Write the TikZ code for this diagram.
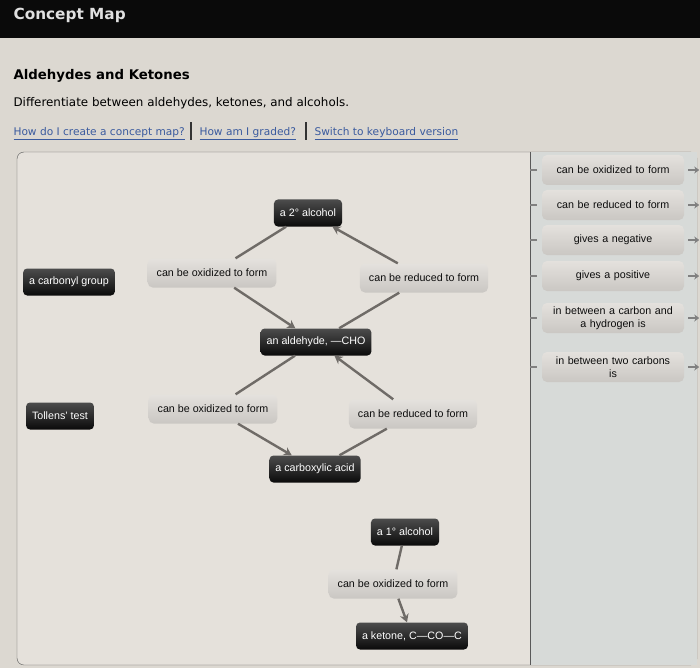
\documentclass[tikz,border=0pt]{standalone}
\usepackage{fontspec}
\setmainfont{Liberation Sans}
\newfontfamily\webfont{DejaVu Sans}
\usetikzlibrary{arrows.meta,positioning}

\definecolor{pagebg}{HTML}{DCD8D1}
\definecolor{canvasbg}{HTML}{E5E1DB}
\definecolor{panelbg}{HTML}{D7DAD8}
\definecolor{linkblue}{HTML}{3A5A9E}
\definecolor{edgegray}{HTML}{6F6B67}
\definecolor{boxlight}{HTML}{E4E1DD}
\definecolor{boxshade}{HTML}{CAC7C3}

\tikzstyle{concept}=[rounded corners=4pt,top color=black!70,bottom color=black!96,text=white,minimum height=27pt,inner xsep=6pt,font=\fontsize{10.7}{12}\selectfont]
\tikzstyle{linker}=[rounded corners=5pt,top color=boxlight,bottom color=boxshade,text=black!95,minimum height=29pt,inner xsep=9pt,font=\fontsize{10.7}{12.5}\selectfont]
\tikzstyle{tray item}=[linker,minimum width=134pt,text width=124pt,align=center,minimum height=30pt]
\tikzstyle{edge} = [draw,line width=2.4pt,edgegray]
\tikzstyle{arrow edge} = [edge,-{Stealth[length=8pt,width=9pt]}]
\tikzstyle{handle} = [draw,line width=2.6pt,black!50]

\begin{document}
\begin{tikzpicture}[x=1pt,y=-1pt]
	\useasboundingbox (0,0) rectangle (700,668);
	% Page, header bar and the canvas
	\fill[pagebg] (0,0) rectangle (700,668);
	\fill[black!96] (0,0) rectangle (700,38);
	\draw[black!65,fill=canvasbg,rounded corners=7pt] (17,152) rectangle (697,665);
	\fill[panelbg] (530,152.5) rectangle (696.5,664.5);
	\draw[black!65] (530,152) -- (530,665);

	% Page texts
	\node[anchor=west,text=black!12,font=\webfont\bfseries\fontsize{15.3}{18}\selectfont] (title) at (10,15) {Concept Map};
	\node[anchor=base west,font=\webfont\bfseries\fontsize{13.3}{16}\selectfont] (topic) at (10,80) {Aldehydes and Ketones};
	\node[anchor=base west,font=\webfont\fontsize{11.9}{14}\selectfont] (goal) at (10,107) {Differentiate between aldehydes, ketones, and alcohols.};
	\node[anchor=base west,text=linkblue,font=\webfont\fontsize{10.6}{12}\selectfont] (howto) at (10,136) {\underline{How do I create a concept map?}};
	\node[anchor=base west,text=linkblue,font=\webfont\fontsize{10.6}{12}\selectfont] (graded) at (196,136) {\underline{How am I graded?}};
	\node[anchor=base west,text=linkblue,font=\webfont\fontsize{10.6}{12}\selectfont] (keyboard) at (311,136) {\underline{Switch to keyboard version}};
	\node[fill=black!80,inner sep=0pt,minimum width=1.2pt,minimum height=18pt] (bar1) at (191,131) {};
	\node[fill=black!80,inner sep=0pt,minimum width=1.2pt,minimum height=18pt] (bar2) at (306,131) {};

	% First we draw the concepts and the linking phrases
	\node[concept] (alc2) at (308,213) {a 2° alcohol};
	\node[concept] (carbonyl) at (69,282) {a carbonyl group};
	\node[linker] (ox1) at (212,273) {can be oxidized to form};
	\node[linker] (red1) at (424,278) {can be reduced to form};
	\node[concept] (ald) at (316,342) {an aldehyde, —CHO};
	\node[concept] (tollens) at (60,416) {Tollens' test};
	\node[linker] (ox2) at (213,409) {can be oxidized to form};
	\node[linker] (red2) at (413,414) {can be reduced to form};
	\node[concept] (acid) at (315,469) {a carboxylic acid};
	\node[concept] (alc1) at (405,532) {a 1° alcohol};
	\node[linker] (ox3) at (393,584) {can be oxidized to form};
	\node[concept] (ketone) at (412,636) {a ketone, C—CO—C};

	% Connect them
	\foreach \source/ \dest in {ox1/alc2,ald/red1,ald/ox2,acid/red2,alc1/ox3}
		\path[edge] (\source) to (\dest);
	\foreach \source/ \dest in {ox1/ald,red1/alc2,ox2/acid,red2/ald,ox3/ketone}
		\path[arrow edge] (\source) to (\dest);

	% Tray of unused linking phrases
	\foreach \y/\txt [count=\i] in {170/can be oxidized to form,205/can be reduced to form,240/gives a negative,276/gives a positive,318/{in between a carbon and\\a hydrogen is},367/{in between two carbons\\is}} {
		\node[tray item] (tray\i) at (613,\y) {\txt};
		\path[handle] (tray\i.west) ++(-5,0) -- ++(-7,0);
		\path[handle,line width=1.8pt,-{Stealth[length=5pt,width=7pt]}] (tray\i.east) ++(4,0) -- ++(11,0);
	}
\end{tikzpicture}
\end{document}
